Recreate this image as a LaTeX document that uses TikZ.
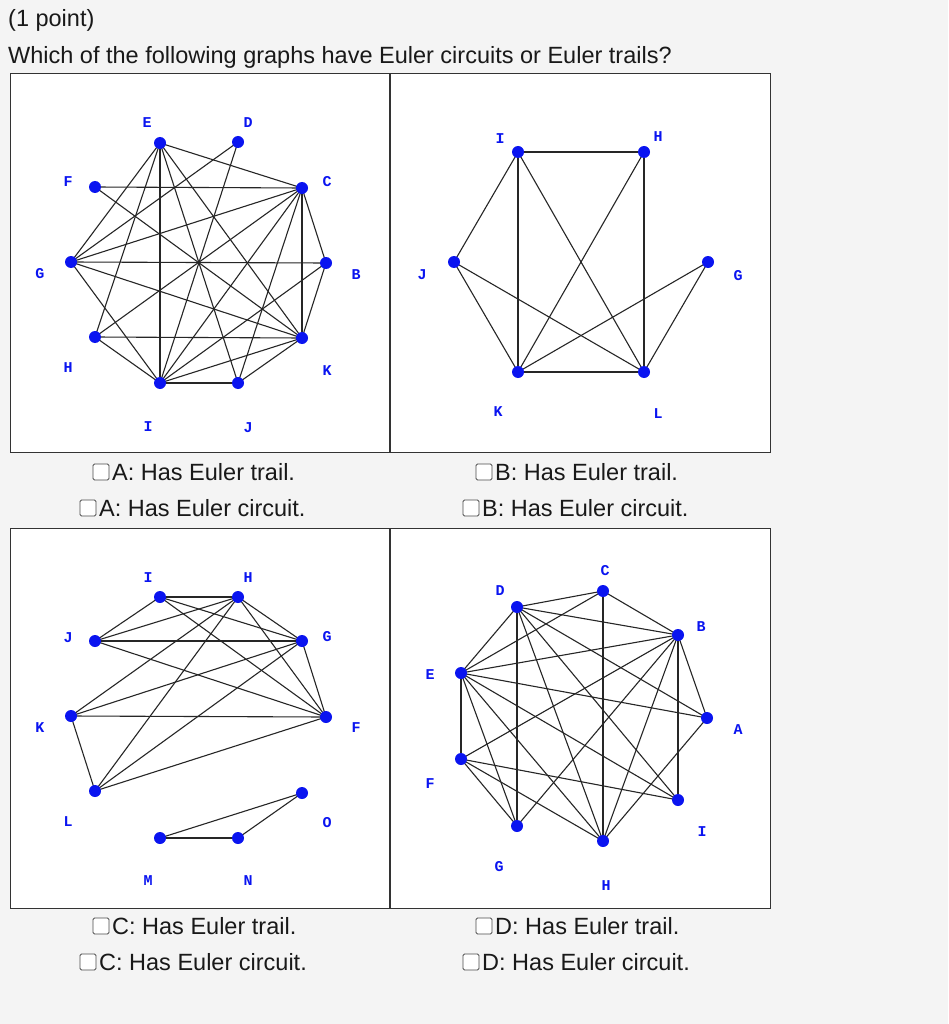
\documentclass[tikz,border=0pt]{standalone}
\usepackage{fontspec}
\setmainfont{Liberation Sans}
\newfontfamily\lblfont{Liberation Mono}
\definecolor{bg}{HTML}{F4F4F4}
\definecolor{vblue}{HTML}{0A14F0}
\begin{document}
\begin{tikzpicture}[x=1pt,y=-1pt,
  v/.style={circle,fill=vblue,inner sep=0pt,minimum size=12pt},
  lb/.style={text=vblue,font=\lblfont\bfseries\fontsize{15}{15}\selectfont,inner sep=0pt},
  ed/.style={line width=1.1pt,black!85},
  frame/.style={draw=black!80,line width=1pt,fill=white},
  txt/.style={anchor=west,inner sep=0pt,font=\fontsize{23.5}{26}\selectfont,text=black!90},
  cbox/.style={draw=black!70,line width=0.9pt,fill=white,rounded corners=1.5pt,minimum size=16pt,inner sep=0pt}]
\fill[bg] (0,0) rectangle (948,1024);
\useasboundingbox (0,0) rectangle (948,1024);
\node[txt] (t1) at (8,20) {(1 point)};
\node[txt] (t2) at (8,57) {Which of the following graphs have Euler circuits or Euler trails?};
\node[frame,minimum width=379pt,minimum height=379pt,anchor=north west] (fa) at (10,73) {};
\node[frame,minimum width=380pt,minimum height=379pt,anchor=north west] (fb) at (390,73) {};
\node[frame,minimum width=379pt,minimum height=380pt,anchor=north west] (fc) at (10,528) {};
\node[frame,minimum width=380pt,minimum height=380pt,anchor=north west] (fd) at (390,528) {};
% checkboxes
\node[cbox] (ca1) at (101,472) {}; \node[txt] (ta1) at (112,472) {A: Has Euler trail.};
\node[cbox] (ca2) at (88,508) {}; \node[txt] (ta2) at (99,508) {A: Has Euler circuit.};
\node[cbox] (cb1) at (484,472) {}; \node[txt] (tb1) at (495,472) {B: Has Euler trail.};
\node[cbox] (cb2) at (471,508) {}; \node[txt] (tb2) at (482,508) {B: Has Euler circuit.};
\node[cbox] (cc1) at (101,926) {}; \node[txt] (tc1) at (112,926) {C: Has Euler trail.};
\node[cbox] (cc2) at (88,962) {}; \node[txt] (tc2) at (99,962) {C: Has Euler circuit.};
\node[cbox] (cd1) at (484,926) {}; \node[txt] (td1) at (495,926) {D: Has Euler trail.};
\node[cbox] (cd2) at (471,962) {}; \node[txt] (td2) at (482,962) {D: Has Euler circuit.};
% ---------- Graph A
\foreach \n/\x/\y/\lx/\ly in {E/160/143/147/123, D/238/142/248/123, F/95/187/68/182, C/302/188/327/182, G/71/262/40/274, B/326/263/356/275, H/95/337/68/368, K/302/338/327/371, I/160/383/148/427, J/238/383/248/428}{
  \coordinate (a\n) at (\x,\y);
  \node[lb] (al\n) at (\lx,\ly) {\n};
}
\foreach \a/\b in {E/C,E/I,E/G,E/H,E/J,E/K,D/G,D/I,F/C,F/K,C/G,C/B,C/K,C/H,C/I,C/J,G/B,G/K,G/I,B/K,B/I,H/K,H/I,I/J,I/K,J/K}
  \draw[ed] (a\a) -- (a\b);
\foreach \n in {E,D,F,C,G,B,H,K,I,J} \node[v] (av\n) at (a\n) {};
% ---------- Graph B
\foreach \n/\x/\y/\lx/\ly in {I/518/152/500/139, H/644/152/658/137, J/454/262/422/275, G/708/262/738/276, K/518/372/498/412, L/644/372/658/414}{
  \coordinate (b\n) at (\x,\y);
  \node[lb] (bl\n) at (\lx,\ly) {\n};
}
\foreach \a/\b in {I/H,I/K,I/J,I/L,H/L,H/K,J/K,J/L,K/L,K/G,L/G}
  \draw[ed] (b\a) -- (b\b);
\foreach \n in {I,H,J,G,K,L} \node[v] (bv\n) at (b\n) {};
% ---------- Graph C
\foreach \n/\x/\y/\lx/\ly in {I/160/597/148/578, H/238/597/248/578, J/95/641/68/638, G/302/641/327/637, K/71/716/40/728, F/326/717/356/728, L/95/791/68/822, O/302/793/327/823, M/160/838/148/881, N/238/838/248/881}{
  \coordinate (c\n) at (\x,\y);
  \node[lb] (cl\n) at (\lx,\ly) {\n};
}
\foreach \a/\b in {I/H,I/J,I/G,I/F,H/J,H/G,H/F,H/K,H/L,J/G,J/F,G/F,G/K,G/L,K/F,K/L,L/F,M/N,M/O,N/O}
  \draw[ed] (c\a) -- (c\b);
\foreach \n in {I,H,J,G,K,F,L,O,M,N} \node[v] (cv\n) at (c\n) {};
% ---------- Graph D
\foreach \n/\x/\y/\lx/\ly in {C/603/591/605/571, D/517/607/500/591, B/678/635/701/627, E/461/673/430/675, A/707/718/738/730, F/461/759/430/784, I/678/800/702/832, G/517/826/499/867, H/603/841/606/886}{
  \coordinate (d\n) at (\x,\y);
  \node[lb] (dl\n) at (\lx,\ly) {\n};
}
\foreach \a/\b in {D/C,D/E,D/G,D/B,D/A,D/I,D/H,E/C,E/B,E/A,E/I,E/H,E/G,E/F,F/B,F/I,F/H,F/G,G/B,H/C,H/B,H/A,B/C,B/A,B/I}
  \draw[ed] (d\a) -- (d\b);
\foreach \n in {C,D,B,E,A,F,I,G,H} \node[v] (dv\n) at (d\n) {};
\end{tikzpicture}
\end{document}
